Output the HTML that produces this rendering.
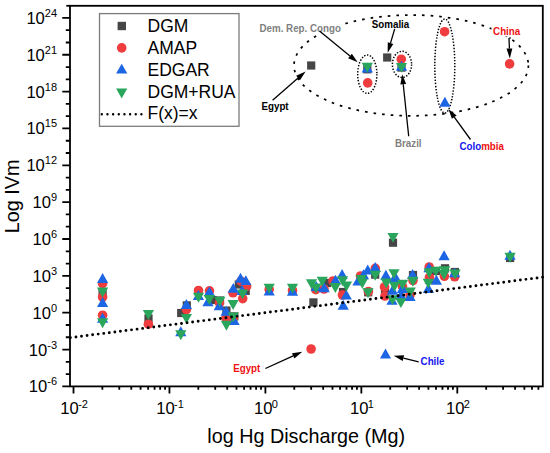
<!DOCTYPE html><html><head><meta charset="utf-8"><style>html,body{margin:0;padding:0;background:#fff;}svg{display:block;}text{font-family:"Liberation Sans",sans-serif;}</style></head><body>
<svg width="550" height="453" viewBox="0 0 550 453">
<rect width="550" height="453" fill="#fff"/>
<path d="M62.3 386.40H70.0 M65.8 374.12H70.0 M65.8 361.83H70.0 M62.3 349.55H70.0 M65.8 337.27H70.0 M65.8 324.98H70.0 M62.3 312.70H70.0 M65.8 300.42H70.0 M65.8 288.14H70.0 M62.3 275.85H70.0 M65.8 263.57H70.0 M65.8 251.29H70.0 M62.3 239.00H70.0 M65.8 226.72H70.0 M65.8 214.44H70.0 M62.3 202.15H70.0 M65.8 189.87H70.0 M65.8 177.59H70.0 M62.3 165.31H70.0 M65.8 153.02H70.0 M65.8 140.74H70.0 M62.3 128.46H70.0 M65.8 116.17H70.0 M65.8 103.89H70.0 M62.3 91.61H70.0 M65.8 79.32H70.0 M65.8 67.04H70.0 M62.3 54.76H70.0 M65.8 42.48H70.0 M65.8 30.19H70.0 M62.3 17.91H70.0 M73.50 386.4V393.6 M102.38 386.4V389.8 M119.28 386.4V389.8 M131.27 386.4V389.8 M140.57 386.4V389.8 M148.16 386.4V389.8 M154.59 386.4V389.8 M160.15 386.4V389.8 M165.06 386.4V389.8 M169.45 386.4V393.6 M198.33 386.4V389.8 M215.23 386.4V389.8 M227.22 386.4V389.8 M236.52 386.4V389.8 M244.11 386.4V389.8 M250.54 386.4V389.8 M256.10 386.4V389.8 M261.01 386.4V389.8 M265.40 386.4V393.6 M294.28 386.4V389.8 M311.18 386.4V389.8 M323.17 386.4V389.8 M332.47 386.4V389.8 M340.06 386.4V389.8 M346.49 386.4V389.8 M352.05 386.4V389.8 M356.96 386.4V389.8 M361.35 386.4V393.6 M390.23 386.4V389.8 M407.13 386.4V389.8 M419.12 386.4V389.8 M428.42 386.4V389.8 M436.01 386.4V389.8 M442.44 386.4V389.8 M448.00 386.4V389.8 M452.91 386.4V389.8 M457.30 386.4V393.6 M486.18 386.4V389.8 M503.08 386.4V389.8 M515.07 386.4V389.8 M524.37 386.4V389.8 M531.96 386.4V389.8 M538.39 386.4V389.8" stroke="#000" stroke-width="1.8" fill="none"/>
<path d="M66.3 5.8H70.0" stroke="#000" stroke-width="1.8"/>
<rect x="70.0" y="5.8" width="472.80" height="380.60" fill="none" stroke="#000" stroke-width="1.8"/>
<text transform="translate(57.1 392.40) scale(1 1)" text-anchor="end" font-size="16.6" fill="#000">10<tspan font-size="11" dy="-7">-6</tspan></text>
<text transform="translate(57.1 355.55) scale(1 1)" text-anchor="end" font-size="16.6" fill="#000">10<tspan font-size="11" dy="-7">-3</tspan></text>
<text transform="translate(57.1 318.70) scale(1 1)" text-anchor="end" font-size="16.6" fill="#000">10<tspan font-size="11" dy="-7">0</tspan></text>
<text transform="translate(57.1 281.85) scale(1 1)" text-anchor="end" font-size="16.6" fill="#000">10<tspan font-size="11" dy="-7">3</tspan></text>
<text transform="translate(57.1 245.00) scale(1 1)" text-anchor="end" font-size="16.6" fill="#000">10<tspan font-size="11" dy="-7">6</tspan></text>
<text transform="translate(57.1 208.15) scale(1 1)" text-anchor="end" font-size="16.6" fill="#000">10<tspan font-size="11" dy="-7">9</tspan></text>
<text transform="translate(57.1 171.31) scale(1 1)" text-anchor="end" font-size="16.6" fill="#000">10<tspan font-size="11" dy="-7">12</tspan></text>
<text transform="translate(57.1 134.46) scale(1 1)" text-anchor="end" font-size="16.6" fill="#000">10<tspan font-size="11" dy="-7">15</tspan></text>
<text transform="translate(57.1 97.61) scale(1 1)" text-anchor="end" font-size="16.6" fill="#000">10<tspan font-size="11" dy="-7">18</tspan></text>
<text transform="translate(57.1 60.76) scale(1 1)" text-anchor="end" font-size="16.6" fill="#000">10<tspan font-size="11" dy="-7">21</tspan></text>
<text transform="translate(57.1 23.91) scale(1 1)" text-anchor="end" font-size="16.6" fill="#000">10<tspan font-size="11" dy="-7">24</tspan></text>
<text transform="translate(74.10 413.8) scale(1 1)" text-anchor="middle" font-size="16.6" fill="#000">10<tspan font-size="11" dx="-0.6" dy="-6.3">-2</tspan></text>
<text transform="translate(170.05 413.8) scale(1 1)" text-anchor="middle" font-size="16.6" fill="#000">10<tspan font-size="11" dx="-0.6" dy="-6.3">-1</tspan></text>
<text transform="translate(266.00 413.8) scale(1 1)" text-anchor="middle" font-size="16.6" fill="#000">10<tspan font-size="11" dx="-0.6" dy="-6.3">0</tspan></text>
<text transform="translate(361.95 413.8) scale(1 1)" text-anchor="middle" font-size="16.6" fill="#000">10<tspan font-size="11" dx="-0.6" dy="-6.3">1</tspan></text>
<text transform="translate(457.90 413.8) scale(1 1)" text-anchor="middle" font-size="16.6" fill="#000">10<tspan font-size="11" dx="-0.6" dy="-6.3">2</tspan></text>
<text x="306.2" y="442.8" text-anchor="middle" font-size="19.8" fill="#000">log Hg Discharge (Mg)</text>
<text transform="translate(18.9 196.3) rotate(-90)" x="0" y="0" text-anchor="middle" font-size="19.8" fill="#000">Log IVm</text>
<rect x="99.5" y="13.6" width="139.5" height="112.7" fill="#fff" stroke="#7c7c7c" stroke-width="1.3"/>
<rect x="117.60" y="21.80" width="8.4" height="8.4" fill="#464646"/>
<circle cx="121.70" cy="47.90" r="4.8" fill="#ef3c3e"/>
<path d="M121.70 63.65L127.30 73.55L116.10 73.55Z" fill="#1c66e4"/>
<path d="M116.10 88.55L127.30 88.55L121.70 98.45Z" fill="#2aa55c"/>
<path d="M101.8 114.2H142" stroke="#000" stroke-width="2.4" stroke-linecap="round" stroke-dasharray="0 5.66" fill="none"/>
<text x="147.5" y="31.80" font-size="17.5" fill="#000">DGM</text>
<text x="147.5" y="53.70" font-size="17.5" fill="#000">AMAP</text>
<text x="147.5" y="75.60" font-size="17.5" fill="#000">EDGAR</text>
<text x="147.5" y="97.50" font-size="17.5" fill="#000">DGM+RUA</text>
<text x="147.5" y="119.40" font-size="17.5" fill="#000">F(x)=x</text>
<ellipse cx="411.2" cy="65.4" rx="117.2" ry="50.4" fill="none" stroke="#000" stroke-width="1.75" stroke-dasharray="2.6 6.0"/>
<ellipse cx="367.3" cy="74.2" rx="9.6" ry="19.2" fill="none" stroke="#000" stroke-width="1.5" stroke-dasharray="1.4 1.6"/>
<ellipse cx="402" cy="64.4" rx="9.6" ry="13.1" fill="none" stroke="#000" stroke-width="1.5" stroke-dasharray="1.4 1.6"/>
<ellipse cx="444.8" cy="66" rx="10" ry="47" fill="none" stroke="#000" stroke-width="1.5" stroke-dasharray="1.4 1.6"/>
<rect x="307.10" y="61.40" width="8.2" height="8.2" fill="#464646"/>
<rect x="383.10" y="53.40" width="8.2" height="8.2" fill="#464646"/>
<rect x="363.20" y="65.20" width="8.2" height="8.2" fill="#464646"/>
<rect x="397.40" y="63.50" width="8.2" height="8.2" fill="#464646"/>
<rect x="98.50" y="288.90" width="8.2" height="8.2" fill="#464646"/>
<rect x="144.40" y="314.40" width="8.2" height="8.2" fill="#464646"/>
<rect x="177.10" y="308.90" width="8.2" height="8.2" fill="#464646"/>
<rect x="182.70" y="301.30" width="8.2" height="8.2" fill="#464646"/>
<rect x="208.40" y="295.90" width="8.2" height="8.2" fill="#464646"/>
<rect x="215.90" y="296.40" width="8.2" height="8.2" fill="#464646"/>
<rect x="222.30" y="306.50" width="8.2" height="8.2" fill="#464646"/>
<rect x="230.20" y="312.30" width="8.2" height="8.2" fill="#464646"/>
<rect x="234.70" y="280.40" width="8.2" height="8.2" fill="#464646"/>
<rect x="241.60" y="286.80" width="8.2" height="8.2" fill="#464646"/>
<rect x="309.30" y="298.30" width="8.2" height="8.2" fill="#464646"/>
<rect x="322.90" y="278.90" width="8.2" height="8.2" fill="#464646"/>
<rect x="338.90" y="287.90" width="8.2" height="8.2" fill="#464646"/>
<rect x="364.10" y="288.20" width="8.2" height="8.2" fill="#464646"/>
<rect x="371.10" y="270.50" width="8.2" height="8.2" fill="#464646"/>
<rect x="380.90" y="285.90" width="8.2" height="8.2" fill="#464646"/>
<rect x="388.90" y="238.60" width="8.2" height="8.2" fill="#464646"/>
<rect x="408.90" y="270.90" width="8.2" height="8.2" fill="#464646"/>
<rect x="424.90" y="275.40" width="8.2" height="8.2" fill="#464646"/>
<rect x="431.90" y="266.90" width="8.2" height="8.2" fill="#464646"/>
<rect x="440.90" y="264.20" width="8.2" height="8.2" fill="#464646"/>
<rect x="450.80" y="267.90" width="8.2" height="8.2" fill="#464646"/>
<rect x="506.00" y="253.90" width="8.2" height="8.2" fill="#464646"/>
<circle cx="367.70" cy="82.90" r="4.8" fill="#ef3c3e"/>
<circle cx="401.30" cy="59.20" r="4.8" fill="#ef3c3e"/>
<circle cx="444.60" cy="31.70" r="4.8" fill="#ef3c3e"/>
<circle cx="509.60" cy="63.90" r="4.8" fill="#ef3c3e"/>
<circle cx="311.10" cy="349.00" r="4.8" fill="#ef3c3e"/>
<circle cx="102.60" cy="283.50" r="4.8" fill="#ef3c3e"/>
<circle cx="102.60" cy="297.00" r="4.8" fill="#ef3c3e"/>
<circle cx="102.60" cy="315.20" r="4.8" fill="#ef3c3e"/>
<circle cx="148.40" cy="324.20" r="4.8" fill="#ef3c3e"/>
<circle cx="186.40" cy="309.50" r="4.8" fill="#ef3c3e"/>
<circle cx="198.50" cy="290.50" r="4.8" fill="#ef3c3e"/>
<circle cx="209.50" cy="290.80" r="4.8" fill="#ef3c3e"/>
<circle cx="219.50" cy="303.00" r="4.8" fill="#ef3c3e"/>
<circle cx="226.00" cy="318.00" r="4.8" fill="#ef3c3e"/>
<circle cx="233.00" cy="292.80" r="4.8" fill="#ef3c3e"/>
<circle cx="233.50" cy="317.50" r="4.8" fill="#ef3c3e"/>
<circle cx="241.00" cy="281.20" r="4.8" fill="#ef3c3e"/>
<circle cx="246.60" cy="286.40" r="4.8" fill="#ef3c3e"/>
<circle cx="242.70" cy="298.60" r="4.8" fill="#ef3c3e"/>
<circle cx="269.20" cy="289.50" r="4.8" fill="#ef3c3e"/>
<circle cx="292.50" cy="290.50" r="4.8" fill="#ef3c3e"/>
<circle cx="315.70" cy="289.60" r="4.8" fill="#ef3c3e"/>
<circle cx="324.00" cy="289.00" r="4.8" fill="#ef3c3e"/>
<circle cx="333.00" cy="281.00" r="4.8" fill="#ef3c3e"/>
<circle cx="342.50" cy="295.00" r="4.8" fill="#ef3c3e"/>
<circle cx="360.50" cy="276.00" r="4.8" fill="#ef3c3e"/>
<circle cx="368.40" cy="291.50" r="4.8" fill="#ef3c3e"/>
<circle cx="375.30" cy="268.40" r="4.8" fill="#ef3c3e"/>
<circle cx="384.50" cy="287.00" r="4.8" fill="#ef3c3e"/>
<circle cx="385.00" cy="296.00" r="4.8" fill="#ef3c3e"/>
<circle cx="402.50" cy="286.50" r="4.8" fill="#ef3c3e"/>
<circle cx="410.00" cy="295.00" r="4.8" fill="#ef3c3e"/>
<circle cx="413.00" cy="280.50" r="4.8" fill="#ef3c3e"/>
<circle cx="429.20" cy="267.00" r="4.8" fill="#ef3c3e"/>
<circle cx="429.50" cy="277.50" r="4.8" fill="#ef3c3e"/>
<circle cx="444.40" cy="276.30" r="4.8" fill="#ef3c3e"/>
<circle cx="454.70" cy="276.80" r="4.8" fill="#ef3c3e"/>
<path d="M367.30 62.55L372.90 72.45L361.70 72.45Z" fill="#1c66e4"/>
<path d="M401.50 60.85L407.10 70.75L395.90 70.75Z" fill="#1c66e4"/>
<path d="M444.90 96.85L450.50 106.75L439.30 106.75Z" fill="#1c66e4"/>
<path d="M385.50 348.55L391.10 358.45L379.90 358.45Z" fill="#1c66e4"/>
<path d="M102.60 273.05L108.20 282.95L97.00 282.95Z" fill="#1c66e4"/>
<path d="M102.60 297.05L108.20 306.95L97.00 306.95Z" fill="#1c66e4"/>
<path d="M102.60 312.75L108.20 322.65L97.00 322.65Z" fill="#1c66e4"/>
<path d="M186.40 299.05L192.00 308.95L180.80 308.95Z" fill="#1c66e4"/>
<path d="M180.80 326.25L186.40 336.15L175.20 336.15Z" fill="#1c66e4"/>
<path d="M198.40 290.05L204.00 299.95L192.80 299.95Z" fill="#1c66e4"/>
<path d="M209.40 286.45L215.00 296.35L203.80 296.35Z" fill="#1c66e4"/>
<path d="M208.00 296.25L213.60 306.15L202.40 306.15Z" fill="#1c66e4"/>
<path d="M219.20 300.35L224.80 310.25L213.60 310.25Z" fill="#1c66e4"/>
<path d="M226.20 305.85L231.80 315.75L220.60 315.75Z" fill="#1c66e4"/>
<path d="M234.10 315.05L239.70 324.95L228.50 324.95Z" fill="#1c66e4"/>
<path d="M233.30 282.95L238.90 292.85L227.70 292.85Z" fill="#1c66e4"/>
<path d="M240.50 272.75L246.10 282.65L234.90 282.65Z" fill="#1c66e4"/>
<path d="M245.80 275.15L251.40 285.05L240.20 285.05Z" fill="#1c66e4"/>
<path d="M242.10 285.05L247.70 294.95L236.50 294.95Z" fill="#1c66e4"/>
<path d="M269.20 285.55L274.80 295.45L263.60 295.45Z" fill="#1c66e4"/>
<path d="M292.50 285.85L298.10 295.75L286.90 295.75Z" fill="#1c66e4"/>
<path d="M316.20 281.05L321.80 290.95L310.60 290.95Z" fill="#1c66e4"/>
<path d="M324.20 282.35L329.80 292.25L318.60 292.25Z" fill="#1c66e4"/>
<path d="M335.50 274.65L341.10 284.55L329.90 284.55Z" fill="#1c66e4"/>
<path d="M342.10 269.05L347.70 278.95L336.50 278.95Z" fill="#1c66e4"/>
<path d="M346.30 289.65L351.90 299.55L340.70 299.55Z" fill="#1c66e4"/>
<path d="M343.20 299.75L348.80 309.65L337.60 309.65Z" fill="#1c66e4"/>
<path d="M358.00 275.55L363.60 285.45L352.40 285.45Z" fill="#1c66e4"/>
<path d="M363.50 269.35L369.10 279.25L357.90 279.25Z" fill="#1c66e4"/>
<path d="M367.70 264.55L373.30 274.45L362.10 274.45Z" fill="#1c66e4"/>
<path d="M375.20 262.05L380.80 271.95L369.60 271.95Z" fill="#1c66e4"/>
<path d="M385.90 269.75L391.50 279.65L380.30 279.65Z" fill="#1c66e4"/>
<path d="M394.20 273.25L399.80 283.15L388.60 283.15Z" fill="#1c66e4"/>
<path d="M392.50 284.75L398.10 294.65L386.90 294.65Z" fill="#1c66e4"/>
<path d="M395.30 271.55L400.90 281.45L389.70 281.45Z" fill="#1c66e4"/>
<path d="M402.40 283.05L408.00 292.95L396.80 292.95Z" fill="#1c66e4"/>
<path d="M401.00 289.65L406.60 299.55L395.40 299.55Z" fill="#1c66e4"/>
<path d="M410.00 291.05L415.60 300.95L404.40 300.95Z" fill="#1c66e4"/>
<path d="M392.00 294.75L397.60 304.65L386.40 304.65Z" fill="#1c66e4"/>
<path d="M412.60 269.05L418.20 278.95L407.00 278.95Z" fill="#1c66e4"/>
<path d="M429.00 262.35L434.60 272.25L423.40 272.25Z" fill="#1c66e4"/>
<path d="M428.40 283.05L434.00 292.95L422.80 292.95Z" fill="#1c66e4"/>
<path d="M436.40 274.75L442.00 284.65L430.80 284.65Z" fill="#1c66e4"/>
<path d="M444.10 250.35L449.70 260.25L438.50 260.25Z" fill="#1c66e4"/>
<path d="M454.60 267.45L460.20 277.35L449.00 277.35Z" fill="#1c66e4"/>
<path d="M510.00 249.85L515.60 259.75L504.40 259.75Z" fill="#1c66e4"/>
<path d="M361.70 62.65L372.90 62.65L367.30 72.55Z" fill="#2aa55c"/>
<path d="M395.90 62.95L407.10 62.95L401.50 72.85Z" fill="#2aa55c"/>
<path d="M97.00 287.55L108.20 287.55L102.60 297.45Z" fill="#2aa55c"/>
<path d="M97.00 318.35L108.20 318.35L102.60 328.25Z" fill="#2aa55c"/>
<path d="M142.80 310.05L154.00 310.05L148.40 319.95Z" fill="#2aa55c"/>
<path d="M180.80 313.95L192.00 313.95L186.40 323.85Z" fill="#2aa55c"/>
<path d="M175.20 330.25L186.40 330.25L180.80 340.15Z" fill="#2aa55c"/>
<path d="M192.90 292.75L204.10 292.75L198.50 302.65Z" fill="#2aa55c"/>
<path d="M203.70 295.05L214.90 295.05L209.30 304.95Z" fill="#2aa55c"/>
<path d="M214.20 296.85L225.40 296.85L219.80 306.75Z" fill="#2aa55c"/>
<path d="M220.80 320.85L232.00 320.85L226.40 330.75Z" fill="#2aa55c"/>
<path d="M227.50 300.05L238.70 300.05L233.10 309.95Z" fill="#2aa55c"/>
<path d="M227.60 312.45L238.80 312.45L233.20 322.35Z" fill="#2aa55c"/>
<path d="M237.00 289.45L248.20 289.45L242.60 299.35Z" fill="#2aa55c"/>
<path d="M263.60 283.65L274.80 283.65L269.20 293.55Z" fill="#2aa55c"/>
<path d="M286.90 283.65L298.10 283.65L292.50 293.55Z" fill="#2aa55c"/>
<path d="M305.90 279.35L317.10 279.35L311.50 289.25Z" fill="#2aa55c"/>
<path d="M310.40 283.55L321.60 283.55L316.00 293.45Z" fill="#2aa55c"/>
<path d="M316.70 276.85L327.90 276.85L322.30 286.75Z" fill="#2aa55c"/>
<path d="M329.70 283.05L340.90 283.05L335.30 292.95Z" fill="#2aa55c"/>
<path d="M337.00 276.35L348.20 276.35L342.60 286.25Z" fill="#2aa55c"/>
<path d="M340.90 281.55L352.10 281.55L346.50 291.45Z" fill="#2aa55c"/>
<path d="M355.60 275.05L366.80 275.05L361.20 284.95Z" fill="#2aa55c"/>
<path d="M356.70 278.85L367.90 278.85L362.30 288.75Z" fill="#2aa55c"/>
<path d="M362.40 288.35L373.60 288.35L368.00 298.25Z" fill="#2aa55c"/>
<path d="M369.60 270.75L380.80 270.75L375.20 280.65Z" fill="#2aa55c"/>
<path d="M380.60 278.55L391.80 278.55L386.20 288.45Z" fill="#2aa55c"/>
<path d="M388.40 269.15L399.60 269.15L394.00 279.05Z" fill="#2aa55c"/>
<path d="M388.90 281.75L400.10 281.75L394.50 291.65Z" fill="#2aa55c"/>
<path d="M386.90 295.15L398.10 295.15L392.50 305.05Z" fill="#2aa55c"/>
<path d="M397.00 279.75L408.20 279.75L402.60 289.65Z" fill="#2aa55c"/>
<path d="M395.30 298.15L406.50 298.15L400.90 308.05Z" fill="#2aa55c"/>
<path d="M404.70 287.55L415.90 287.55L410.30 297.45Z" fill="#2aa55c"/>
<path d="M407.30 276.85L418.50 276.85L412.90 286.75Z" fill="#2aa55c"/>
<path d="M422.70 278.65L433.90 278.65L428.30 288.55Z" fill="#2aa55c"/>
<path d="M423.60 268.35L434.80 268.35L429.20 278.25Z" fill="#2aa55c"/>
<path d="M430.20 266.65L441.40 266.65L435.80 276.55Z" fill="#2aa55c"/>
<path d="M439.00 266.35L450.20 266.35L444.60 276.25Z" fill="#2aa55c"/>
<path d="M438.40 270.05L449.60 270.05L444.00 279.95Z" fill="#2aa55c"/>
<path d="M449.50 269.55L460.70 269.55L455.10 279.45Z" fill="#2aa55c"/>
<path d="M387.40 232.95L398.60 232.95L393.00 242.85Z" fill="#2aa55c"/>
<path d="M504.50 252.75L515.70 252.75L510.10 262.65Z" fill="#2aa55c"/>
<path d="M70.4 337.66L542.7 277.20" stroke="#000" stroke-width="2.9" stroke-linecap="round" stroke-dasharray="0 5.6005" fill="none"/>
<rect x="258" y="22.5" width="86" height="12.5" fill="#fff"/>
<text transform="translate(259.5 31.7) scale(0.94 1)" font-size="10.4" font-weight="bold" fill="#7f7f7f">Dem. Rep. Congo</text>
<text transform="translate(371.8 27.5) scale(0.94 1)" font-size="10.4" font-weight="bold" fill="#000">Somalia</text>
<rect x="491.5" y="25.5" width="30" height="11" fill="#fff"/>
<text transform="translate(493.1 34.7) scale(0.94 1)" font-size="10.4" font-weight="bold" fill="#ee1111">China</text>
<text transform="translate(261.5 110) scale(0.94 1)" font-size="10.4" font-weight="bold" fill="#000">Egypt</text>
<text transform="translate(395 147.2) scale(0.94 1)" font-size="10.4" font-weight="bold" fill="#7f7f7f">Brazil</text>
<text transform="translate(459.5 150) scale(0.94 1)" font-size="10.4" font-weight="bold"><tspan fill="#1515ee">Colo</tspan><tspan fill="#ee1111">mbia</tspan></text>
<text transform="translate(233.2 372.2) scale(0.94 1)" font-size="10.4" font-weight="bold" fill="#ee1111">Egypt</text>
<text transform="translate(420.6 364.8) scale(0.94 1)" font-size="10.4" font-weight="bold" fill="#1515ee">Chile</text>
<path d="M272.60 100.20L298.07 77.98" stroke="#000" stroke-width="1.3"/><path d="M305.60 71.40L299.97 80.16L296.16 75.79Z" fill="#000"/>
<path d="M319.50 30.90L349.97 55.95" stroke="#000" stroke-width="1.3"/><path d="M357.70 62.30L348.13 58.19L351.82 53.71Z" fill="#000"/>
<path d="M394.70 28.90L390.52 43.11" stroke="#000" stroke-width="1.3"/><path d="M387.70 52.70L387.74 42.29L393.30 43.92Z" fill="#000"/>
<path d="M408.70 136.20L403.24 84.25" stroke="#000" stroke-width="1.3"/><path d="M402.20 74.30L406.13 83.94L400.36 84.55Z" fill="#000"/>
<path d="M470.50 139.50L454.27 117.10" stroke="#000" stroke-width="1.3"/><path d="M448.40 109.00L456.62 115.40L451.92 118.80Z" fill="#000"/>
<path d="M508.9 38H511" stroke="#000" stroke-width="1"/>
<path d="M509.00 38.00L509.41 48.51" stroke="#000" stroke-width="1.3"/><path d="M509.80 58.50L506.51 48.62L512.31 48.39Z" fill="#000"/>
<path d="M265.40 368.50L293.19 355.92" stroke="#000" stroke-width="1.3"/><path d="M302.30 351.80L294.39 358.57L291.99 353.28Z" fill="#000"/>
<path d="M418.70 361.90L403.41 358.17" stroke="#000" stroke-width="1.3"/><path d="M393.70 355.80L404.10 355.35L402.73 360.99Z" fill="#000"/>
</svg></body></html>
